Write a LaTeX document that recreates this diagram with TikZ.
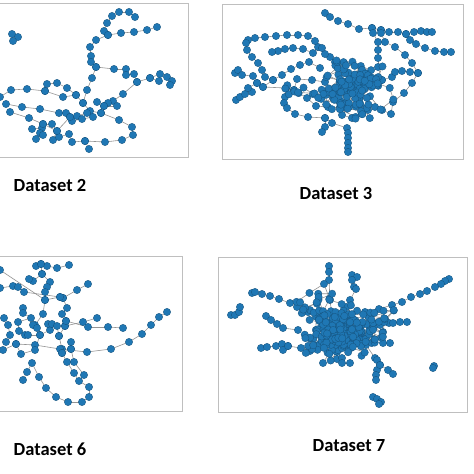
\documentclass[tikz,border=0pt]{standalone}
\usepackage{fontspec}
\setmainfont{Carlito}
\definecolor{nb}{RGB}{31,119,180}
\tikzset{
  nd/.style={fill=nb,draw=nb!70!black,line width=0.3pt},
  edge/.style={draw=gray!85,line width=0.6pt},
  frm/.style={draw=gray!50,line width=1pt},
  lbl/.style={font=\bfseries\fontsize{18.5}{20}\selectfont,inner sep=0pt}
}
\newif\ifnodepass
\newcommand\gch[1]{%
  \foreach \x/\y [count=\i, remember=\x as \px (initially 0), remember=\y as \py (initially 0)] in {#1}{%
    \ifnodepass \path[nd] (\x,\y) circle (3.7pt);%
    \else \ifnum\i>1 \draw[edge] (\px,\py)--(\x,\y);\fi\fi}}
% seed, n, cx, cy, stepx, stepy
\newcommand\gcl[6]{%
  \pgfmathsetseed{#1}%
  \xdef\pxx{#3}\xdef\pyy{#4}%
  \foreach \i in {1,...,#2}{%
    \pgfmathsetmacro\xx{0.85*\pxx+0.15*#3+#5*rand}%
    \pgfmathsetmacro\yy{0.85*\pyy+0.15*#4+#6*rand}%
    \ifnodepass \path[nd] (\xx,\yy) circle (3.7pt);%
    \else \draw[edge] (\pxx,\pyy)--(\xx,\yy);\fi
    \xdef\pxx{\xx}\xdef\pyy{\yy}}}
\newcommand\allgraphs{%
% ---------- Dataset 2 ----------
\gch{12/34,18/37,13/41}
\gch{157/27,147/30,134/32,121/33,108/35,104/31,107/23,112/16,119/12,129/12,135/17}
\gch{108/35,96/40,90/47,91/56,91/62,96/67,92/78,87/90,83/103}
\gch{96/67,114/69,126/69,126/75,134/74,137/82,150/78,160/74,167/77,172/81,170/85}
\gch{150/78,159/81}
\gch{137/82,123/94,113/101,108/103,104/106,97/102}
\gch{104/106,117/106}
\gch{0/97,11/90,27/89,45/91,47/84,57/83,67/88,76/95,83/103,90/111,101/113}
\gch{45/91,63/97,76/95}
\gch{6/104,22/107,40/109,59/113,66/113,70/117,77/116,87/113,93/117,82/119,72/121}
\gch{10/112,29/118,43/124,52/124,57/131,53/140,59/137,69/134,72/142,85/141,105/142,122/140,133/135,132/127,119/120,101/113}
\gch{85/141,89/149}
\gch{32/129,42/128,40/133,43/135,36/139}
\gch{43/124,57/131,70/117}
% ---------- Dataset 3 ----------
\gch{325/13,330/17,338/21,348/24,359/29,372/28,381/30,389/32,398/32,406/34,414/32,421/31,427/32,432/32}
\gch{372/28,373/33,378/42,378/50,378/58,378/67,382/80}
\gch{381/30,381/33,385/42,395/47,405/55,412/63,418/73,412/83,404/93,393/102,391/114,382/110,375/107,368/110,362/114}
\gch{406/34,410/40,416/44,425/48,435/51,444/52,451/52}
\gch{370/80,382/80,392/77,395/72,402/71,410/72,418/73}
\gch{335/62,330/57,325/54,318/47,315/41,308/36,298/35,287/35,276/36,265/37,255/38,248/40,246/43,247/50,252/57,258/63,262/70,265/77,273/80}
\gch{322/48,313/53,303/49,293/48,285/49,278/51,272/52}
\gch{235/73,238/70,242/75,253/76,257/83,263/87,273/80,282/75,291/69,300/65,309/62,320/68}
\gch{236/100,240/97,245/94,252/92,248/88,257/83}
\gch{263/87,286/88,294/90,297/79,312/80,325/82}
\gch{286/88,285/97,284/103,287/108,295/114,308/117,325/118,332/123,347/128,348/133,348/138,348/143,348/148,348/152}
\gch{325/118,325/127,322/132}
\gch{294/90,307/98,316/106,328/107,340/107,349/107,342/115,352/118}
\gcl{3}{150}{346}{86}{17}{12}
% ---------- Dataset 6 ----------
\gch{36/266,41/264,47/266,57/268,69/265}
\gch{41/264,42/274,33/281,29/279}
\gch{42/274,50/282,47/287,45/292,45/300,43/314,35/325}
\gch{0/288,13/286,18/287,24/292,60/297,63/298,77/290,88/284}
\gch{63/298,67/308,62/314,66/321,65/326,59/336,62/349}
\gch{65/326,83/322,97/318}
\gch{66/321,88/327,108/327,123/328}
\gch{167/312,159/317,151/325,142/334,129/342,111/349,87/352,60/349,35/345,16/344,3/350}
\gch{62/353,71/349,71/342}
\gch{71/349,74/362,84/375}
\gch{62/353,67/362,74/373,79/381,89/387,89/397,82/402,68/402,56/397,46/388,39/377,32/363,27/372,23/380}
\gch{23/308,23/313,31/318,18/322,19/331,25/335,28/335,40/335,50/330,48/324,52/324,57/326,59/336}
\gch{4/318,8/325,10/335,6/342}
\gch{33/325,37/328,40/335,35/350,21/354,16/344}
\gch{0/270,45/300,60/297}
% ---------- Dataset 7 ----------
\gch{329/266,329/272,329/280,330/300}
\gch{352/275,357/277,352/280,354/287,356/289,350/300}
\gch{449/279,445/281,441/284,435/287,427/291,420/294,411/297,402/302,392/305,379/309,365/312}
\gch{252/293,255/292,262/294,270/296,279/299,290/303,297/307,308/312}
\gch{231/315,235/315,239/312,240/307}
\gch{266/316,271/320,277/324,283/328,298/330}
\gch{261/348,267/347,276/346,282/344,288/346,283/350}
\gch{288/346,301/348,310/351,318/345}
\gch{372/325,380/325,389/323,393/323,400/322,407/322}
\gch{372/330,383/332,383/343,390/343}
\gch{366/345,375/358,377/360,380/365,377/370,376/375,376/380}
\gch{380/365,388/370,393/374}
\gch{373/397,377/399,381/402,379/404}
\gch{434/366,433/368}
\gch{330/352,323/363}
\gch{337/352,337/359,342/358,342/363,350/363}
\gcl{7}{240}{340}{322}{18}{14}
}
\begin{document}
\begin{tikzpicture}[x=1pt,y=-1pt]
\useasboundingbox (0,0) rectangle (474,474);
\clip (0,0) rectangle (474,474);
\fill[white] (0,0) rectangle (474,474);
% frames
\draw[frm] (-5,3) rectangle (188,157);
\draw[frm] (222,4) rectangle (463,159);
\draw[frm] (-5,256) rectangle (182,411);
\draw[frm] (218,257) rectangle (467,412);
\nodepassfalse\allgraphs
\nodepasstrue\allgraphs
% labels
\node[lbl] (l2) at (50,185) {Dataset 2};
\node[lbl] (l3) at (336,193) {Dataset 3};
\node[lbl] (l6) at (50,449) {Dataset 6};
\node[lbl] (l7) at (349,446) {Dataset 7};
\end{tikzpicture}
\end{document}
